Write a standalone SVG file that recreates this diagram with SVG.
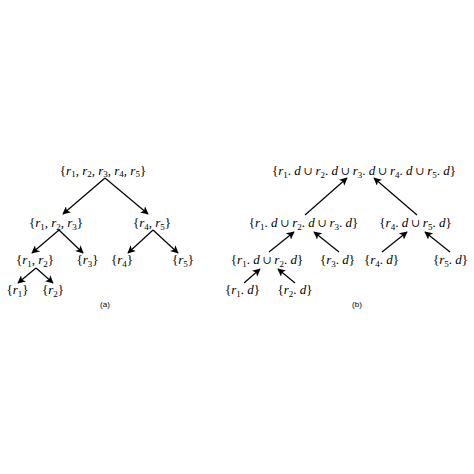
<svg xmlns="http://www.w3.org/2000/svg" width="474" height="474" viewBox="0 0 474 474">
<style>
text{font-family:"Liberation Serif","DejaVu Serif",serif;font-size:13px;fill:#000;text-anchor:middle}
.i{font-style:italic}
.s{font-size:9px}
.u{font-size:11px}
.cap{font-family:"Liberation Sans",Arial,sans-serif;font-size:8px}
.e{stroke:#000;stroke-width:1.2;fill:none;marker-end:url(#ah)}
</style>
<defs>
<marker id="ah" viewBox="0 0 10 10" refX="9" refY="5" markerWidth="8" markerHeight="8" markerUnits="userSpaceOnUse" orient="auto">
<path d="M0,0 L10,5 L0,10 L2.5,5 Z" fill="#000"/>
</marker>
</defs>
<rect width="474" height="474" fill="#fff"/>
<g id="connectors">
<line class="e" x1="105" y1="178" x2="63" y2="214"/>
<line class="e" x1="105" y1="178" x2="148" y2="214"/>
<line class="e" x1="59" y1="230" x2="32" y2="253"/>
<line class="e" x1="59" y1="230" x2="83" y2="253"/>
<line class="e" x1="153" y1="230" x2="128" y2="253"/>
<line class="e" x1="153" y1="230" x2="178" y2="253"/>
<line class="e" x1="36" y1="268" x2="18" y2="283"/>
<line class="e" x1="36" y1="268" x2="53" y2="283"/>
<line class="e" x1="305" y1="215" x2="347" y2="178"/>
<line class="e" x1="417" y1="215" x2="374" y2="178"/>
<line class="e" x1="269" y1="252" x2="294" y2="232"/>
<line class="e" x1="339" y1="252" x2="314" y2="232"/>
<line class="e" x1="382" y1="252" x2="407" y2="232"/>
<line class="e" x1="450" y1="252" x2="425" y2="232"/>
<line class="e" x1="244" y1="283" x2="260" y2="269"/>
<line class="e" x1="295" y1="283" x2="278" y2="269"/>
</g>
<g id="a-root"><text x="103" y="174.5">{<tspan class="i">r</tspan><tspan class="s" dy="2.5">1</tspan><tspan dy="-2.5">, </tspan><tspan class="i">r</tspan><tspan class="s" dy="2.5">2</tspan><tspan dy="-2.5">, </tspan><tspan class="i">r</tspan><tspan class="s" dy="2.5">3</tspan><tspan dy="-2.5">, </tspan><tspan class="i">r</tspan><tspan class="s" dy="2.5">4</tspan><tspan dy="-2.5">, </tspan><tspan class="i">r</tspan><tspan class="s" dy="2.5">5</tspan><tspan dy="-2.5">}</tspan></text></g>
<g id="a-r123"><text x="56" y="227">{<tspan class="i">r</tspan><tspan class="s" dy="2.5">1</tspan><tspan dy="-2.5">, </tspan><tspan class="i">r</tspan><tspan class="s" dy="2.5">2</tspan><tspan dy="-2.5">, </tspan><tspan class="i">r</tspan><tspan class="s" dy="2.5">3</tspan><tspan dy="-2.5">}</tspan></text></g>
<g id="a-r45"><text x="152" y="227">{<tspan class="i">r</tspan><tspan class="s" dy="2.5">4</tspan><tspan dy="-2.5">, </tspan><tspan class="i">r</tspan><tspan class="s" dy="2.5">5</tspan><tspan dy="-2.5">}</tspan></text></g>
<g id="a-r12"><text x="35" y="264">{<tspan class="i">r</tspan><tspan class="s" dy="2.5">1</tspan><tspan dy="-2.5">, </tspan><tspan class="i">r</tspan><tspan class="s" dy="2.5">2</tspan><tspan dy="-2.5">}</tspan></text></g>
<g id="a-r3"><text x="87.5" y="264">{<tspan class="i">r</tspan><tspan class="s" dy="2.5">3</tspan><tspan dy="-2.5">}</tspan></text></g>
<g id="a-r4"><text x="122" y="264">{<tspan class="i">r</tspan><tspan class="s" dy="2.5">4</tspan><tspan dy="-2.5">}</tspan></text></g>
<g id="a-r5"><text x="183" y="264">{<tspan class="i">r</tspan><tspan class="s" dy="2.5">5</tspan><tspan dy="-2.5">}</tspan></text></g>
<g id="a-r1"><text x="17.5" y="294">{<tspan class="i">r</tspan><tspan class="s" dy="2.5">1</tspan><tspan dy="-2.5">}</tspan></text></g>
<g id="a-r2"><text x="53" y="294">{<tspan class="i">r</tspan><tspan class="s" dy="2.5">2</tspan><tspan dy="-2.5">}</tspan></text></g>
<g id="cap-a"><text class="cap" x="105" y="307">(a)</text></g>
<g id="b-root"><text x="364" y="175">{<tspan class="i">r</tspan><tspan class="s" dy="2.5">1</tspan><tspan dy="-2.5">. </tspan><tspan class="i">d</tspan><tspan class="u"> ∪ </tspan><tspan class="i">r</tspan><tspan class="s" dy="2.5">2</tspan><tspan dy="-2.5">. </tspan><tspan class="i">d</tspan><tspan class="u"> ∪ </tspan><tspan class="i">r</tspan><tspan class="s" dy="2.5">3</tspan><tspan dy="-2.5">. </tspan><tspan class="i">d</tspan><tspan class="u"> ∪ </tspan><tspan class="i">r</tspan><tspan class="s" dy="2.5">4</tspan><tspan dy="-2.5">. </tspan><tspan class="i">d</tspan><tspan class="u"> ∪ </tspan><tspan class="i">r</tspan><tspan class="s" dy="2.5">5</tspan><tspan dy="-2.5">. </tspan><tspan class="i">d</tspan>}</text></g>
<g id="b-r123"><text x="303.5" y="227">{<tspan class="i">r</tspan><tspan class="s" dy="2.5">1</tspan><tspan dy="-2.5">. </tspan><tspan class="i">d</tspan><tspan class="u"> ∪ </tspan><tspan class="i">r</tspan><tspan class="s" dy="2.5">2</tspan><tspan dy="-2.5">. </tspan><tspan class="i">d</tspan><tspan class="u"> ∪ </tspan><tspan class="i">r</tspan><tspan class="s" dy="2.5">3</tspan><tspan dy="-2.5">. </tspan><tspan class="i">d</tspan>}</text></g>
<g id="b-r45"><text x="415.5" y="227">{<tspan class="i">r</tspan><tspan class="s" dy="2.5">4</tspan><tspan dy="-2.5">. </tspan><tspan class="i">d</tspan><tspan class="u"> ∪ </tspan><tspan class="i">r</tspan><tspan class="s" dy="2.5">5</tspan><tspan dy="-2.5">. </tspan><tspan class="i">d</tspan>}</text></g>
<g id="b-r12"><text x="267" y="264">{<tspan class="i">r</tspan><tspan class="s" dy="2.5">1</tspan><tspan dy="-2.5">. </tspan><tspan class="i">d</tspan><tspan class="u"> ∪ </tspan><tspan class="i">r</tspan><tspan class="s" dy="2.5">2</tspan><tspan dy="-2.5">. </tspan><tspan class="i">d</tspan>}</text></g>
<g id="b-r3"><text x="337.5" y="264">{<tspan class="i">r</tspan><tspan class="s" dy="2.5">3</tspan><tspan dy="-2.5">. </tspan><tspan class="i">d</tspan>}</text></g>
<g id="b-r4"><text x="381.5" y="264">{<tspan class="i">r</tspan><tspan class="s" dy="2.5">4</tspan><tspan dy="-2.5">. </tspan><tspan class="i">d</tspan>}</text></g>
<g id="b-r5"><text x="450.5" y="264">{<tspan class="i">r</tspan><tspan class="s" dy="2.5">5</tspan><tspan dy="-2.5">. </tspan><tspan class="i">d</tspan>}</text></g>
<g id="b-r1"><text x="242.5" y="294">{<tspan class="i">r</tspan><tspan class="s" dy="2.5">1</tspan><tspan dy="-2.5">. </tspan><tspan class="i">d</tspan>}</text></g>
<g id="b-r2"><text x="295" y="294">{<tspan class="i">r</tspan><tspan class="s" dy="2.5">2</tspan><tspan dy="-2.5">. </tspan><tspan class="i">d</tspan>}</text></g>
<g id="cap-b"><text class="cap" x="357" y="307">(b)</text></g>
</svg>
